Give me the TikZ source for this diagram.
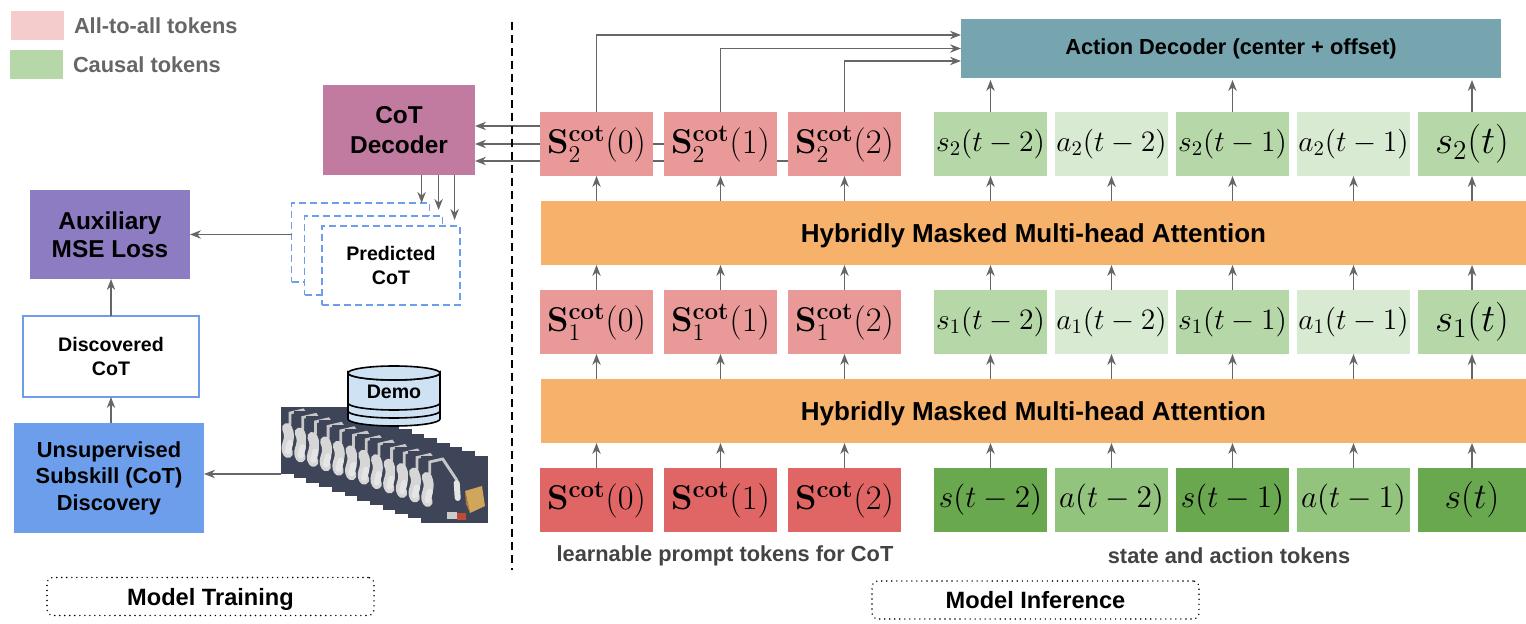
\documentclass[tikz,border=0pt]{standalone}
\usepackage{fix-cm}
\usepackage[no-math]{fontspec}
\setmainfont{Liberation Sans}
\usetikzlibrary{arrows.meta,backgrounds,positioning}

\definecolor{cotdark}{HTML}{E06666}
\definecolor{cotmid}{HTML}{EA9999}
\definecolor{cotlight}{HTML}{F4CCCC}
\definecolor{statedark}{HTML}{6AA84F}
\definecolor{actionmid}{HTML}{93C47D}
\definecolor{statemid}{HTML}{B6D7A8}
\definecolor{actionlight}{HTML}{D9EAD3}
\definecolor{attnorange}{HTML}{F6B26B}
\definecolor{actionteal}{HTML}{76A5AF}
\definecolor{cotpurple}{HTML}{C27BA0}
\definecolor{losspurple}{HTML}{8E7CC3}
\definecolor{skillblue}{HTML}{6D9EEB}
\definecolor{demoblue}{HTML}{CFE2F3}
\definecolor{linegray}{HTML}{666666}
\definecolor{captiongray}{HTML}{434343}
\definecolor{framedark}{HTML}{3F4559}

\begin{document}
\begin{tikzpicture}
[x=0.5pt,y=-0.5pt,
every node/.style={outer sep=0pt},
token/.style={rectangle,inner sep=0pt,minimum width=56.5pt,minimum height=32pt},
cottoken/.style={token,font=\fontsize{17.2}{18}\selectfont},
cotsubtoken/.style={cottoken,text depth=4pt},
bigtoken/.style={token,font=\fontsize{15.7}{18}\selectfont},
smalltoken/.style={token,font=\fontsize{14.8}{18}\selectfont},
lasttoken/.style={token,minimum width=54pt,font=\fontsize{19.5}{20}\selectfont},
attention/.style={rectangle,fill=attnorange,inner sep=0pt,minimum width=492.5pt,minimum height=32pt,text depth=0pt,
  font=\fontsize{13}{15}\selectfont\bfseries},
block/.style={rectangle,inner sep=0pt,align=center,font=\fontsize{12.2}{15}\selectfont\bfseries},
whitebox/.style={rectangle,draw=skillblue,fill=white,semithick,inner sep=0pt,align=center,
  font=\fontsize{9.8}{12}\selectfont\bfseries},
predbox/.style={whitebox,dash pattern=on 3.5pt off 2pt,minimum width=69pt,minimum height=39.5pt},
modebox/.style={rectangle,draw,line cap=round,dash pattern=on 0.01pt off 2.5pt,line width=0.8pt,rounded corners=3pt,
  minimum width=163.5pt,minimum height=19pt,inner sep=0pt,text depth=0pt,font=\fontsize{11.8}{14}\selectfont\bfseries},
legendbox/.style={rectangle,inner sep=0pt,minimum width=26.5pt,minimum height=14.5pt},
graytext/.style={text=linegray,inner sep=0pt,font=\fontsize{10.9}{13}\selectfont\bfseries},
robotframe/.style={rectangle,fill=framedark,inner sep=0pt,minimum width=33.5pt,minimum height=33.5pt,anchor=north west},
post/.style={-{Stealth[length=5.5pt,width=4.2pt]},draw=linegray,line width=0.75pt},
pre/.style={{Stealth[length=5.5pt,width=4.2pt]}-,draw=linegray,line width=0.75pt},
robotarm/.pic={
  \draw[black!22,line cap=round,line width=1.4pt] (9,18) -- (9,6) -- (22,3) -- (36,24);
  \draw[black!16,line cap=round,line width=5pt] (7,46) .. controls (2,38) and (12,34) .. (6,21);
  \draw[black!10,line cap=round,line width=3.2pt] (7,44) -- (9,36);
  \draw[black!10,line cap=round,line width=3pt] (36,27) -- (37,42);
}]

\useasboundingbox (0,0) rectangle (1526,624);

% legend
\node[legendbox,fill=cotlight] (legendcot) at (37.5,25.5) {};
\node[graytext,anchor=west] (legendcottext) at (74,26) {All-to-all tokens};
\node[legendbox,fill=statemid] (legendcausal) at (36.5,65) {};
\node[graytext,anchor=west] (legendcausaltext) at (73,65) {Causal tokens};

% the two attention bars and the decoder
\node[attention] (attn one) at (1033.5,411) {Hybridly Masked Multi-head Attention};
\node[attention] (attn two) at (1033.5,233) {Hybridly Masked Multi-head Attention};
\node[rectangle,fill=actionteal,inner sep=0pt,minimum width=270pt,minimum height=29.5pt,
  font=\fontsize{10.9}{13}\selectfont\bfseries] (action) at (1231,48.5) {Action Decoder (center + offset)};

% input tokens
\node[cottoken,fill=cotdark] (cot0a) at (596.5,500) {$\mathbf{S}^{\mathbf{cot}}(0)$}
edge [post] (cot0a |- attn one.south);
\node[cottoken,fill=cotdark] (cot0b) [right=5.5pt of cot0a] {$\mathbf{S}^{\mathbf{cot}}(1)$}
edge [post] (cot0b |- attn one.south);
\node[cottoken,fill=cotdark] (cot0c) [right=5.5pt of cot0b] {$\mathbf{S}^{\mathbf{cot}}(2)$}
edge [post] (cot0c |- attn one.south);
\node[bigtoken,fill=statedark] (sa0a) at (990.5,500) {$s(t-2)$}
edge [post] (sa0a |- attn one.south);
\node[bigtoken,fill=actionmid] (sa0b) [right=4pt of sa0a] {$a(t-2)$}
edge [post] (sa0b |- attn one.south);
\node[bigtoken,fill=statedark] (sa0c) [right=4pt of sa0b] {$s(t-1)$}
edge [post] (sa0c |- attn one.south);
\node[bigtoken,fill=actionmid] (sa0d) [right=4pt of sa0c] {$a(t-1)$}
edge [post] (sa0d |- attn one.south);
\node[lasttoken,fill=statedark,font=\fontsize{18}{20}\selectfont] (sa0e) [right=4pt of sa0d] {$s(t)$}
edge [post] (sa0e |- attn one.south);

% first layer tokens
\node[cotsubtoken,fill=cotmid] (cot1a) [above=57pt of cot0a] {$\mathbf{S}_1^{\mathbf{cot}}(0)$}
edge [post] (cot1a |- attn two.south)
edge [pre] (cot1a |- attn one.north);
\node[cotsubtoken,fill=cotmid] (cot1b) [above=57pt of cot0b] {$\mathbf{S}_1^{\mathbf{cot}}(1)$}
edge [post] (cot1b |- attn two.south)
edge [pre] (cot1b |- attn one.north);
\node[cotsubtoken,fill=cotmid] (cot1c) [above=57pt of cot0c] {$\mathbf{S}_1^{\mathbf{cot}}(2)$}
edge [post] (cot1c |- attn two.south)
edge [pre] (cot1c |- attn one.north);
\node[smalltoken,fill=statemid] (sa1a) [above=57pt of sa0a] {$s_1(t-2)$}
edge [post] (sa1a |- attn two.south)
edge [pre] (sa1a |- attn one.north);
\node[smalltoken,fill=actionlight] (sa1b) [above=57pt of sa0b] {$a_1(t-2)$}
edge [post] (sa1b |- attn two.south)
edge [pre] (sa1b |- attn one.north);
\node[smalltoken,fill=statemid] (sa1c) [above=57pt of sa0c] {$s_1(t-1)$}
edge [post] (sa1c |- attn two.south)
edge [pre] (sa1c |- attn one.north);
\node[smalltoken,fill=actionlight] (sa1d) [above=57pt of sa0d] {$a_1(t-1)$}
edge [post] (sa1d |- attn two.south)
edge [pre] (sa1d |- attn one.north);
\node[lasttoken,fill=statemid] (sa1e) [above=57pt of sa0e] {$s_1(t)$}
edge [post] (sa1e |- attn two.south)
edge [pre] (sa1e |- attn one.north);

% second layer tokens
\node[cotsubtoken,fill=cotmid] (cot2a) [above=57pt of cot1a] {$\mathbf{S}_2^{\mathbf{cot}}(0)$}
edge [pre] (cot2a |- attn two.north);
\node[cotsubtoken,fill=cotmid] (cot2b) [above=57pt of cot1b] {$\mathbf{S}_2^{\mathbf{cot}}(1)$}
edge [pre] (cot2b |- attn two.north);
\node[cotsubtoken,fill=cotmid] (cot2c) [above=57pt of cot1c] {$\mathbf{S}_2^{\mathbf{cot}}(2)$}
edge [pre] (cot2c |- attn two.north);
\node[smalltoken,fill=statemid] (sa2a) [above=57pt of sa1a] {$s_2(t-2)$}
edge [pre] (sa2a |- attn two.north)
edge [post,shorten >=1pt] (sa2a |- action.south);
\node[smalltoken,fill=actionlight] (sa2b) [above=57pt of sa1b] {$a_2(t-2)$}
edge [pre] (sa2b |- attn two.north);
\node[smalltoken,fill=statemid] (sa2c) [above=57pt of sa1c] {$s_2(t-1)$}
edge [pre] (sa2c |- attn two.north)
edge [post,shorten >=1pt] (sa2c |- action.south);
\node[smalltoken,fill=actionlight] (sa2d) [above=57pt of sa1d] {$a_2(t-1)$}
edge [pre] (sa2d |- attn two.north);
\node[lasttoken,fill=statemid] (sa2e) [above=57pt of sa1e] {$s_2(t)$}
edge [pre] (sa2e |- attn two.north)
edge [post,shorten >=1pt] (sa2e |- action.south);

% into the action decoder
\draw[post] (cot2a.north) |- ([yshift=6.75pt]action.west);
\draw[post] (cot2b.north) |- (action.west);
\draw[post] (cot2c.north) |- ([yshift=-6.25pt]action.west);

% training side
\node[block,fill=cotpurple,minimum width=76pt,minimum height=45pt] (cot decoder) at (399,130) {CoT\\Decoder};
\node[predbox] (pred one) at (360.5,242.5) {};
\node[predbox] (pred two) at (373.5,255.5) {};
\node[predbox] (pred three) at (391,265.5) {Predicted\\CoT};
\node[block,fill=losspurple,font=\fontsize{12.2}{14}\selectfont\bfseries,minimum width=80pt,minimum height=44.5pt] (loss) at (110,234.5) {Auxiliary\\MSE Loss};
\node[whitebox,minimum width=88pt,minimum height=40.5pt] (discovered) at (111,356.5) {Discovered\\CoT}
edge [post] (discovered.north |- loss.south);
\node[block,fill=skillblue,font=\fontsize{10.9}{13.25}\selectfont\bfseries,minimum width=95pt,minimum height=55pt]
  (skill) at (109,478) {Unsupervised\\Subskill (CoT)\\Discovery};

% token lines behind the boxes
\begin{scope}[on background layer]
\draw[post] ([yshift=9pt]cot2a.west) -- ([yshift=9pt]cot2a.west -| cot decoder.east);
\draw[post] (cot2b.west) -- (cot2b.west -| cot decoder.east);
\draw[post] ([yshift=-8.5pt]cot2c.west) -- ([yshift=-8.5pt]cot2c.west -| cot decoder.east);
\end{scope}

\draw[post] ([xshift=11.3pt]cot decoder.south) -- ([xshift=11.3pt]cot decoder.south |- pred one.north);
\draw[post,shorten >=3pt] ([xshift=19.8pt]cot decoder.south) -- ([xshift=19.8pt]cot decoder.south |- pred two.north);
\draw[post,shorten >=3pt] ([xshift=27.8pt]cot decoder.south) -- ([xshift=27.8pt]cot decoder.south |- pred three.north);
\draw[post] (pred one.west |- loss.east) -- (loss.east);
\draw[post] (discovered.south |- skill.north) -- (discovered.south);

% demo frames
\foreach \i in {0,...,11} {
  \node[robotframe] (frame\i) at ({281+12.7*\i},{407+4.45*\i}) {};
  \pic at ({281+12.7*\i},{407+4.45*\i}) {robotarm};
}
\path[fill={rgb,255:red,208;green,165;blue,92}] (465,491) -- (482,486) -- (485,506) -- (470,513) -- cycle;
\path[fill={rgb,255:red,170;green,120;blue,60}] (465,491) -- (470,513) -- (466,504) -- cycle;
\path[fill=black!20] (447,512) rectangle (457,519);
\path[fill={rgb,255:red,190;green,75;blue,50}] (457,513) rectangle (466,520);
\draw[post] (frame0.south west) -- (frame0.south west -| skill.east);

% demo database
\draw[fill=demoblue,thick] (348,373) -- (348,419) arc[start angle=180,end angle=360,x radius=23pt,y radius=3.5pt]
  -- (440,373) arc[start angle=360,end angle=180,x radius=23pt,y radius=3.5pt] -- cycle;
\draw[fill=demoblue,thick] (394,373) ellipse [x radius=23pt,y radius=3.5pt];
\draw[thick] (348,403) arc[start angle=180,end angle=360,x radius=23pt,y radius=3.5pt];
\draw[thick] (348,411) arc[start angle=180,end angle=360,x radius=23pt,y radius=3.5pt];
\node[font=\fontsize{9.8}{12}\selectfont\bfseries,inner sep=0pt] (demo) at (394,392) {Demo};

% divider and captions
\coordinate (divide top) at (512,22);
\coordinate (divide bottom) at (512,570);
\draw[line width=0.8pt,dash pattern=on 4pt off 2.5pt] (divide top) -- (divide bottom);
\node[graytext,text=captiongray] (cot caption) at (725,556) {learnable prompt tokens for CoT};
\node[graytext,text=captiongray] (sa caption) at (1229,556) {state and action tokens};
\node[modebox] (training) at (210.5,596.5) {Model Training};
\node[modebox] (inference) at (1035.5,600) {Model Inference};
\end{tikzpicture}
\end{document}
